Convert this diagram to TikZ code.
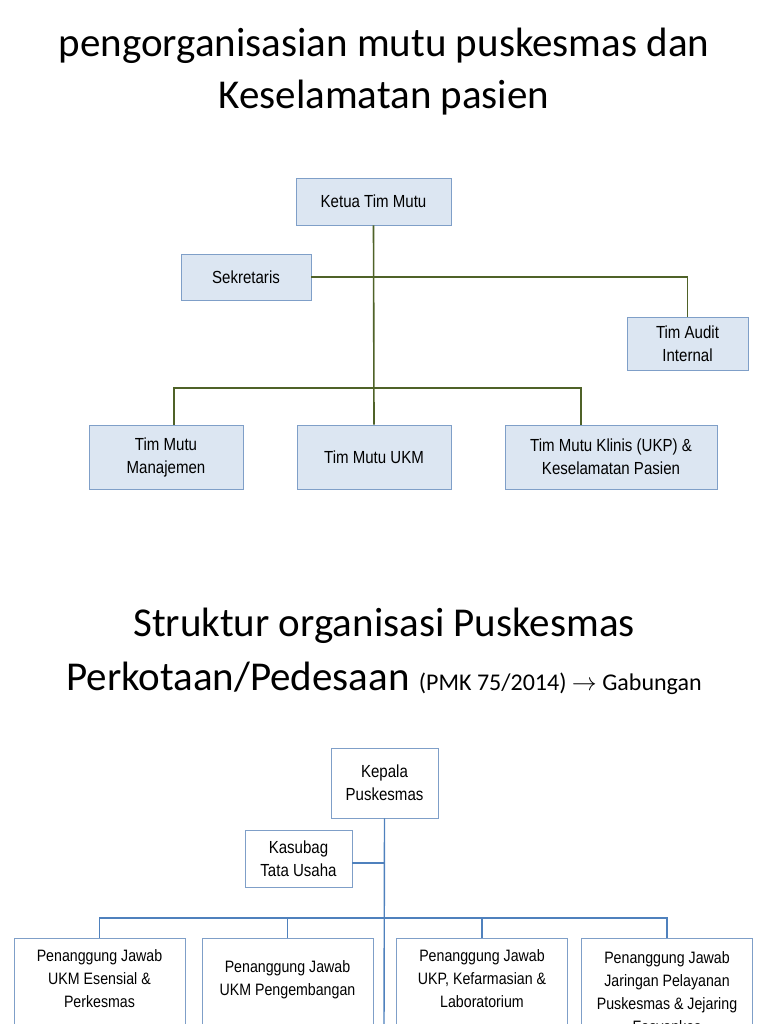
\documentclass[tikz,border=0pt]{standalone}
\usepackage{fontspec}
\setmainfont{Carlito}
\newfontfamily\boxfont[FakeStretch=0.86]{Liberation Sans}
\begin{document}
\begin{tikzpicture}[x=1pt,y=-1pt,
 bx/.style={draw=#1,fill=boxfill,line width=0.8pt,inner sep=0pt,align=center,font=\boxfont\fontsize{17.5}{23}\selectfont},
 bx/.default={boxedge},
 gl/.style={draw=olive2,line width=1.6pt},
 bl/.style={draw=blue2,line width=1.4pt}]
\definecolor{boxfill}{HTML}{DCE6F2}
\definecolor{boxedge}{HTML}{7F9FC8}
\definecolor{olive2}{HTML}{4F6228}
\definecolor{blue2}{HTML}{4F81BD}
\useasboundingbox (0,0) rectangle (768,1024);
\clip (0,0) rectangle (768,1024);
\node[font=\fontsize{41}{52}\selectfont,align=center] (t1) at (384,72) {pengorganisasian mutu puskesmas dan\\Keselamatan pasien};
% top chart
\node[bx,minimum width=155,minimum height=47] (k) at (373.5,201.5) {Ketua Tim Mutu};
\node[bx,minimum width=130,minimum height=46] (s) at (246,277) {Sekretaris};
\node[bx,minimum width=121,minimum height=53] (a) at (687.5,343.5) {Tim Audit\\Internal};
\node[bx,minimum width=154,minimum height=64] (m1) at (166,457) {Tim Mutu\\Manajemen};
\node[bx,minimum width=154,minimum height=64] (m2) at (374,457) {Tim Mutu UKM};
\node[bx,minimum width=212,minimum height=64] (m3) at (611,457) {Tim Mutu Klinis (UKP) \&\\Keselamatan Pasien};
\coordinate (h1) at (374,277);
\coordinate (h2) at (374,388);
\coordinate (d1) at (174,425);
\coordinate (d3) at (581,425);
\draw[gl] (k.south) -- (m2.north);
\draw[gl] (s.east) -- (h1) -| (a.north);
\draw[gl] (h2) -| (d1);
\draw[gl] (h2) -| (d3);
% second
\node[font=\fontsize{41}{54}\selectfont,align=center] (t2) at (384,651) {Struktur organisasi Puskesmas\\Perkotaan/Pedesaan {\fontsize{24}{28}\selectfont(PMK 75/2014) $\rightarrow$ Gabungan}};
\tikzset{wb/.style={bx=boxedge,fill=white}}
\node[wb,minimum width=107,minimum height=70] (kp) at (384.5,783) {Kepala\\Puskesmas};
\node[wb,minimum width=107,minimum height=57] (ks) at (298.5,858.5) {Kasubag\\Tata Usaha};
\tikzset{pb/.style={wb,minimum width=171,minimum height=110,anchor=north,font=\boxfont\fontsize{16.5}{23}\selectfont}}
\node[pb] (p1) at (99.5,938) {Penanggung Jawab\\UKM Esensial \&\\Perkesmas\\\strut};
\node[pb] (p2) at (287.5,938) {Penanggung Jawab\\UKM Pengembangan\\\strut};
\node[pb] (p3) at (482,938) {Penanggung Jawab\\UKP, Kefarmasian \&\\Laboratorium\\\strut};
\node[pb] (p4) at (667,938) {Penanggung Jawab\\Jaringan Pelayanan\\Puskesmas \& Jejaring\\Fasyankes};
\coordinate (c1) at (384,863);
\coordinate (c2) at (384,918);
\coordinate (bot) at (384,1030);
\draw[bl] (kp.south) -- (bot);
\draw[bl] (ks.east|-c1) -- (c1);
\draw[bl] (c2) -| (p1.north);
\draw[bl] (c2) -| (p2.north);
\draw[bl] (c2) -| (p3.north);
\draw[bl] (c2) -| (p4.north);
\end{tikzpicture}
\end{document}
